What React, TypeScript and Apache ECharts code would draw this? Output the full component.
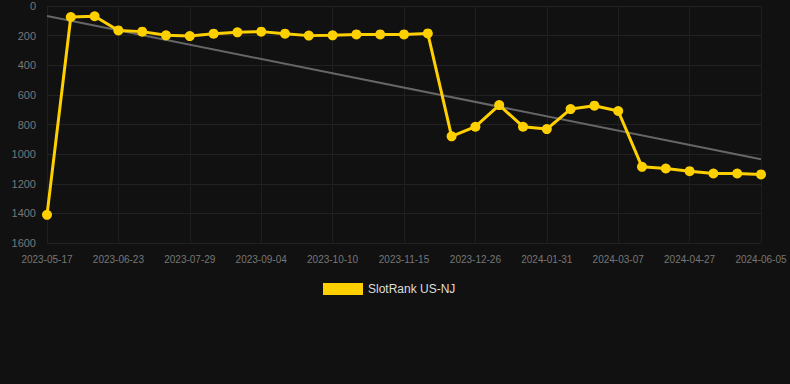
import React, { useEffect, useRef } from "react";
import * as echarts from "echarts";

const dates = [
  "2023-05-17", "2023-05-29", "2023-06-11", "2023-06-23", "2023-07-05", "2023-07-17",
  "2023-07-29", "2023-08-10", "2023-08-22", "2023-09-04", "2023-09-16", "2023-09-28",
  "2023-10-10", "2023-10-22", "2023-11-03", "2023-11-15", "2023-11-29", "2023-12-12",
  "2023-12-26", "2024-01-07", "2024-01-19", "2024-01-31", "2024-02-12", "2024-02-24",
  "2024-03-07", "2024-03-24", "2024-04-10", "2024-04-27", "2024-05-10", "2024-05-23",
  "2024-06-05",
];

const rank = [
  1410, 74, 69, 165, 173, 198, 203, 187, 178, 173, 187, 200, 198, 192, 192, 192, 185,
  880, 815, 669, 815, 831, 696, 673, 709, 1086, 1097, 1115, 1131, 1131, 1137,
];

const trendStart = 68;
const trendEnd = 1034;

export default function App() {
  const ref = useRef<HTMLDivElement>(null);
  useEffect(() => {
    if (!ref.current) return;
    const chart = echarts.init(ref.current, undefined, { renderer: "svg" });
    chart.setOption({
      animation: false,
      backgroundColor: "#111111",
      grid: { left: 47, right: 29, top: 6, bottom: 141, containLabel: false },
      legend: {
        data: [{ name: "SlotRank US-NJ", icon: "rect" }],
        top: 278,
        left: 318,
        itemWidth: 40,
        itemHeight: 12,
        textStyle: { color: "#dddddd", fontSize: 12, fontFamily: "Liberation Sans, Arial, sans-serif" },
      },
      xAxis: {
        type: "category",
        data: dates,
        boundaryGap: false,
        axisLine: { show: false },
        axisTick: { show: false },
        axisLabel: {
          interval: 2,
          color: "#777777",
          fontSize: 10,
          margin: 11,
          fontFamily: "Liberation Sans, Arial, sans-serif",
        },
        splitLine: { show: true, interval: 2, lineStyle: { color: "#1f1f1f", width: 1 } },
      },
      yAxis: {
        type: "value",
        inverse: true,
        min: 0,
        max: 1600,
        interval: 200,
        axisLine: { show: false },
        axisTick: { show: false },
        axisLabel: {
          color: "#777777",
          fontSize: 11,
          margin: 11,
          formatter: (v: number) => String(v),
          fontFamily: "Liberation Sans, Arial, sans-serif",
        },
        splitLine: { lineStyle: { color: "#222222", width: 1 } },
      },
      series: [
        {
          name: "trend",
          type: "line",
          data: [[0, trendStart], [30, trendEnd]],
          showSymbol: false,
          symbol: "none",
          lineStyle: { color: "#666666", width: 2 },
          z: 1,
          silent: true,
        },
        {
          name: "SlotRank US-NJ",
          type: "line",
          data: rank,
          symbol: "circle",
          symbolSize: 10,
          itemStyle: { color: "#FFD000" },
          lineStyle: { color: "#FFD000", width: 3 },
          z: 2,
        },
      ],
    });
    return () => chart.dispose();
  }, []);
  return (
    <div
      ref={ref}
      style={{ position: "fixed", left: 0, top: 0, width: 790, height: 384 }}
    />
  );
}
